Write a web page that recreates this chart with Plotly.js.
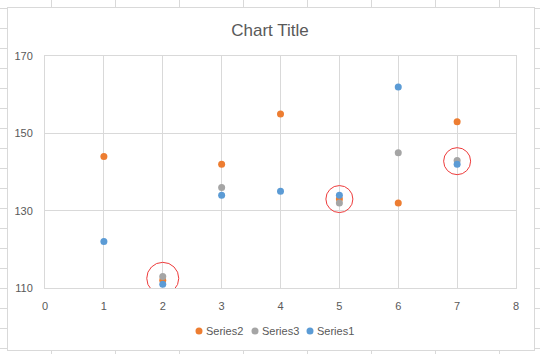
<!DOCTYPE html>
<html>
<head>
<meta charset="utf-8">
<script src="https://cdn.plot.ly/plotly-3.0.1.min.js"></script>
<style>
  html, body { margin: 0; padding: 0; }
  body {
    width: 540px; height: 354px; position: relative; overflow: hidden;
    background-color: #ffffff;
    background-image:
      linear-gradient(to right, #d9d9d9 1px, transparent 1px),
      linear-gradient(to bottom, #d9d9d9 1px, transparent 1px);
    background-size: 64px 100%, 100% 20px;
    background-position: 51px 0, 0 8px;
  }
  #box {
    position: absolute; left: 7px; top: 7px; width: 528px; height: 344px;
    box-sizing: border-box; border: 1px solid #d9d9d9; background: #ffffff;
  }
  #chart { position: absolute; left: 0; top: 0; width: 540px; height: 354px; }
</style>
</head>
<body>
<div id="box"></div>
<div id="chart"></div>
<script>
// ---- data ----
const xValues  = [1, 2, 3, 4, 5, 6, 7];
const series1  = [122, 111, 134, 135, 134, 162, 142];
const series2  = [144, 112, 142, 155, 133, 132, 153];
const series3  = [null, 113, 136, null, 132, 145, 143];
const seriesNames = ['Series2', 'Series3', 'Series1'];
const xTicks   = [0, 1, 2, 3, 4, 5, 6, 7, 8];
const yTicks   = [110, 130, 150, 170];
const highlightX = [2, 5, 7];
const highlightY = [112.5, 133, 142.8];

const colors = { Series1: '#5B9BD5', Series2: '#ED7D31', Series3: '#A5A5A5' };
const seriesData = { Series1: series1, Series2: series2, Series3: series3 };

const traces = seriesNames.map(name => ({
  type: 'scatter', mode: 'markers', name: name,
  x: xValues, y: seriesData[name],
  marker: { color: colors[name], size: 7, line: { width: 0 } },
  showlegend: false, hoverinfo: 'skip'
}));

// plot area in page pixels
const L = 45, R = 516, T = 56, B = 288;
const W = 540, H = 354;
const px2paperX = px => (px - L) / (R - L);
const px2paperY = py => (B - py) / (B - T);

const shapes = [];
const hlSizes = [32, 27, 27];
highlightX.forEach((hx, i) => {
  const r = hlSizes[i] / 2;
  shapes.push({
    type: 'circle', xref: 'x', yref: 'y',
    xsizemode: 'pixel', ysizemode: 'pixel',
    xanchor: hx, yanchor: highlightY[i],
    x0: -r, x1: r, y0: -r, y1: r,
    line: { color: '#EE3B3B', width: 1 }, fillcolor: 'rgba(0,0,0,0)'
  });
});

// manual legend (dot + text close together, as in the reference)
const legendDotX = [199, 255, 310];
const legendY = px2paperY(331);
const annotations = [];
seriesNames.forEach((name, i) => {
  shapes.push({
    type: 'circle', xref: 'paper', yref: 'paper',
    xsizemode: 'pixel', ysizemode: 'pixel',
    xanchor: px2paperX(legendDotX[i]), yanchor: legendY,
    x0: -3.5, x1: 3.5, y0: -3.5, y1: 3.5,
    line: { width: 0 }, fillcolor: colors[name]
  });
  annotations.push({
    xref: 'paper', yref: 'paper',
    x: px2paperX(legendDotX[i] + 4.5), y: legendY,
    xanchor: 'left', yanchor: 'middle', showarrow: false,
    text: name, font: { family: 'Liberation Sans, Arial, sans-serif', size: 11, color: '#595959' }
  });
});

const axisFont = { family: 'Liberation Sans, Arial, sans-serif', size: 11, color: '#595959' };

const layout = {
  width: W, height: H,
  margin: { l: L, r: W - R, t: T, b: H - B, pad: 0 },
  paper_bgcolor: 'rgba(0,0,0,0)', plot_bgcolor: 'rgba(0,0,0,0)',
  title: {
    text: 'Chart Title', xref: 'container', yref: 'container',
    x: 0.5, xanchor: 'center', y: 1 - 30 / H, yanchor: 'middle',
    font: { family: 'Liberation Sans, Arial, sans-serif', size: 17, color: '#595959' }
  },
  xaxis: {
    range: [0, 8], tickvals: xTicks, ticktext: xTicks.map(String),
    showgrid: true, gridcolor: '#d9d9d9', gridwidth: 1,
    showline: true, linecolor: '#d9d9d9', linewidth: 1, mirror: true,
    zeroline: false, ticks: '', tickfont: axisFont, ticklabelstandoff: 8,
    fixedrange: true
  },
  yaxis: {
    range: [110, 170], tickvals: yTicks, ticktext: yTicks.map(String),
    showgrid: true, gridcolor: '#d9d9d9', gridwidth: 1,
    showline: true, linecolor: '#d9d9d9', linewidth: 1, mirror: true,
    zeroline: false, ticks: '', tickfont: axisFont, ticklabelstandoff: 9,
    fixedrange: true
  },
  showlegend: false,
  shapes: shapes,
  annotations: annotations
};

Plotly.newPlot('chart', traces, layout, { displayModeBar: false, staticPlot: true });
</script>
</body>
</html>
